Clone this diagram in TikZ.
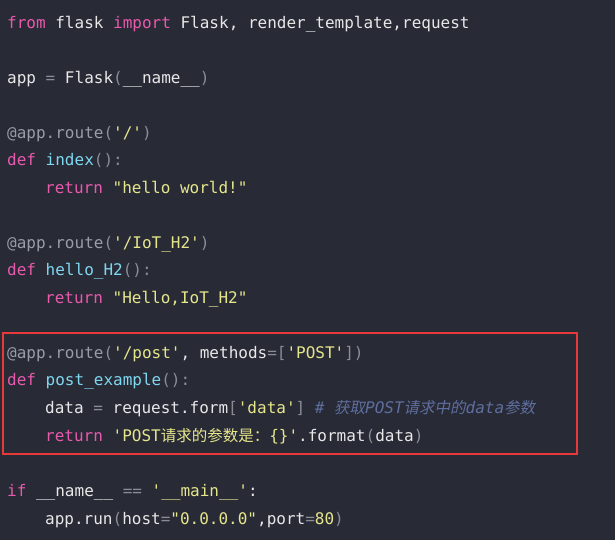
\documentclass[tikz,border=0pt]{standalone}
\usepackage{fontspec}
\setmonofont{DejaVu Sans Mono}
\newfontfamily\cjk{Noto Sans CJK SC}
\newfontfamily\cjksl{Noto Sans CJK SC}[FakeSlant=0.2]
\definecolor{bg}{HTML}{282A36}
\definecolor{kwc}{HTML}{E85AAD}
\definecolor{fnc}{HTML}{7FD8F0}
\definecolor{stc}{HTML}{E6E68C}
\definecolor{puc}{HTML}{8A8C96}
\definecolor{dcc}{HTML}{9A9CA6}
\definecolor{cmc}{HTML}{5E6E9E}
\definecolor{txc}{HTML}{E8E8E8}
\definecolor{boxc}{HTML}{E8383A}
\newcommand{\kw}[1]{\textcolor{kwc}{#1}}
\newcommand{\fn}[1]{\textcolor{fnc}{#1}}
\newcommand{\st}[1]{\textcolor{stc}{#1}}
\newcommand{\pu}[1]{\textcolor{puc}{#1}}
\newcommand{\dc}[1]{\textcolor{dcc}{#1}}
\newcommand{\cm}[1]{\textcolor{cmc}{\itshape #1}}
\newcommand{\sq}{\char"27\relax}
\newcommand{\dq}{\char"22\relax}
\newcommand{\zh}[1]{{\cjk\fontsize{15.5}{16}\selectfont #1}}
\newcommand{\zhi}[1]{{\cjksl\fontsize{15.5}{16}\selectfont #1}}
\begin{document}
\begin{tikzpicture}[x=1pt,y=1pt,
  code/.style={anchor=base west,inner sep=0pt,text=txc,font=\ttfamily\fontsize{16}{18}\selectfont}]
\fill[bg] (0,0) rectangle (615,540);
\useasboundingbox (0,0) rectangle (615,540);
\node[code] (l1) at (7,511) {\kw{from} flask \kw{import} Flask, render\_template,request};
\node[code] (l2) at (7,456) {app \pu{=} Flask\pu{(}\_\_name\_\_\pu{)}};
\node[code] (l3) at (7,401) {\dc{@app.route\pu{(}}\st{\sq/\sq}\dc{\pu{)}}};
\node[code] (l4) at (7,374) {\kw{def} \fn{index}\pu{():}};
\node[code] (l5) at (45,346) {\kw{return} \st{\dq hello world!\dq}};
\node[code] (l6) at (7,291) {\dc{@app.route\pu{(}}\st{\sq/IoT\_H2\sq}\pu{)}};
\node[code] (l7) at (7,264) {\kw{def} \fn{hello\_H2}\pu{():}};
\node[code] (l8) at (45,236) {\kw{return} \st{\dq Hello,IoT\_H2\dq}};
\node[code] (l9) at (7,181) {\dc{@app.route\pu{(}}\st{\sq/post\sq}, methods\pu{=[}\st{\sq POST\sq}\pu{])}};
\node[code] (l10) at (7,154) {\kw{def} \fn{post\_example}\pu{():}};
\node[code] (l11) at (45,126) {data \pu{=} request.form\pu{[}\st{\sq data\sq}\pu{]} \cm{\# \zhi{获取}POST\zhi{请求中的}data\zhi{参数}}};
\node[code] (l12) at (45,98) {\kw{return} \st{\sq POST\zh{请求的参数是：}\{\}\sq}.format\pu{(}data\pu{)}};
\node[code] (l13) at (7,43) {\kw{if} \_\_name\_\_ \pu{==} \st{\sq\_\_main\_\_\sq}:};
\node[code] (l14) at (45,15) {app.run\pu{(}host\pu{=}\st{\dq0.0.0.0\dq},port\pu{=}\st{80}\pu{)}};
\draw[boxc,line width=2.2pt] (3,86) rectangle (577,207);
\end{tikzpicture}
\end{document}
